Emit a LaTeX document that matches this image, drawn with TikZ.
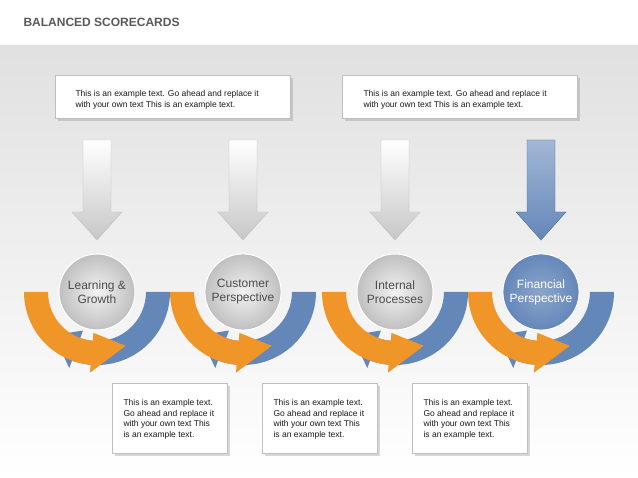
\documentclass[tikz,border=0pt]{standalone}
\usepackage{fontspec}
\setmainfont{Liberation Sans}
\usetikzlibrary{shadows,calc}
\begin{document}
\begin{tikzpicture}[x=1pt,y=-1pt,
 box/.style={draw=black!25,fill=white,drop shadow={opacity=0.3},inner sep=0pt},
 txt/.style={font=\fontsize{8.5}{10.5}\selectfont,text=black!90,align=left,anchor=north west},
 circ/.style={circle,minimum size=76pt,draw=white,line width=1pt,font=\fontsize{12}{14}\selectfont,align=center,text=black!70,shading=radial,inner color=black!5,outer color=black!25},
 darr/.style={draw=black!25,top color=white,bottom color=black!22}]
\useasboundingbox (0,0) rectangle (638,478);
\fill[top color=black!12,bottom color=white] (0,45) rectangle (638,478);
\fill[white] (0,0) rectangle (638,45);
\node[anchor=west,font=\bfseries\fontsize{12}{14}\selectfont,text=black!65] (title) at (20,22) {BALANCED SCORECARDS};
\newcommand{\seg}[7]{% cx,cy,a1,a2,tipangle,color,dummy
 \fill[#6] ($(#1,#2)+(#3:73)$) arc[start angle=#3,end angle=#4,radius=73]
  -- ($(#1,#2)+(#4:#7)$) -- ($(#1,#2)+(#5:61)$) -- ($(#1,#2)+(#4:122-#7)$)
  -- ($(#1,#2)+(#4:49)$) arc[start angle=#4,end angle=#3,radius=49] -- cycle;}
\definecolor{or}{RGB}{240,150,40}
\definecolor{bl}{RGB}{100,135,185}
\foreach \cx in {97,243,395,541}{
 \seg{\cx}{292}{0}{110}{135}{bl}{81}
 \seg{\cx}{292}{180}{95}{62}{or}{81}
}
\foreach \cx/\n in {97/a,243/b,395/c}{
 \path[darr] (\cx-14,140) -- (\cx+14,140) -- (\cx+14,212) -- (\cx+25,212) -- (\cx,240) -- (\cx-25,212) -- (\cx-14,212) -- cycle;}
\path[draw=bl!80!black,top color=bl!60,bottom color=bl] (527,140) -- (555,140) -- (555,212) -- (566,212) -- (541,240) -- (516,212) -- (527,212) -- cycle;
\node[circ] (c1) at (97,292) {Learning \&\\Growth};
\node[circ] (c2) at (243,292) {Customer\\Perspective};
\node[circ] (c3) at (395,292) {Internal\\Processes};
\node[circ,inner color=bl!75,outer color=bl!100!black,text=white] (c4) at (541,292) {Financial\\Perspective};
\node[box,minimum width=235pt,minimum height=43pt,anchor=north west] (t1) at (55,75) {};
\node[txt] at (72,87) {This is an example text. Go ahead and replace it\\with your own text This is an example text.};
\node[box,minimum width=235pt,minimum height=43pt,anchor=north west] (t2) at (342,75) {};
\node[txt] at (360,87) {This is an example text. Go ahead and replace it\\with your own text This is an example text.};
\foreach \x/\n in {112/b1,262/b2,412/b3}{
 \node[box,minimum width=115pt,minimum height=70pt,anchor=north west] (\n) at (\x,383) {};
 \node[txt] at (\x+8,396) {This is an example text.\\Go ahead and replace it\\with your own text This\\is an example text.};}
\end{tikzpicture}
\end{document}
